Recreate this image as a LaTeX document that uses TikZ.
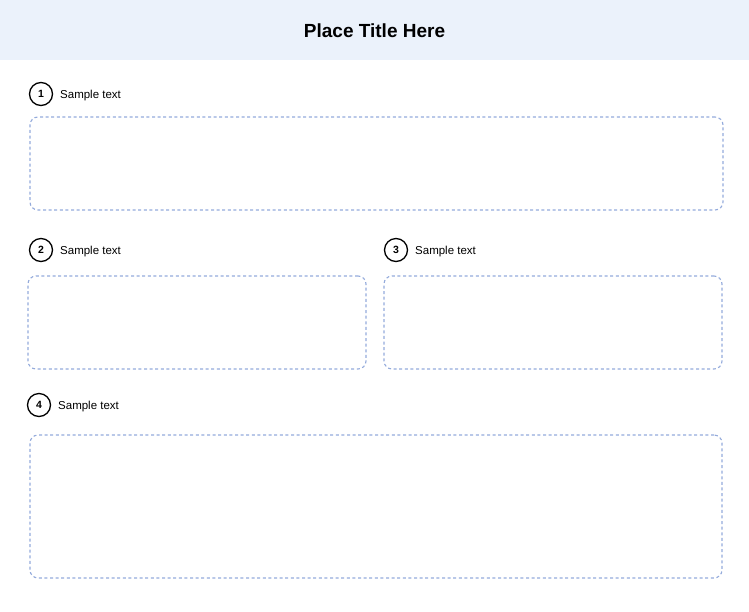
\documentclass[tikz,border=0pt]{standalone}
\usepackage{fontspec}
\setmainfont{Liberation Sans}
\usepackage{tikz}
\definecolor{bandblue}{HTML}{EBF2FB}
\definecolor{dashblue}{HTML}{93AADB}
\tikzset{
  panel/.style={draw=dashblue, line width=1.1pt, dash pattern=on 3pt off 2.6pt, rounded corners=8pt, inner sep=0pt},
  numdot/.style={draw, circle, line width=1.3pt, minimum size=23pt, inner sep=0pt, font=\fontsize{10.5}{12}\selectfont\bfseries},
  caption/.style={anchor=base west, inner sep=0pt, font=\fontsize{11.5}{13}\selectfont}
}
\newcommand{\heading}[4]{\node[numdot] (n#1) at (#2,#3) {#1};
  \node[caption] (t#1) at (#4,#3+4) {Sample text};}

\begin{document}
\begin{tikzpicture}[x=1pt,y=-1pt]
       \useasboundingbox (0,0) rectangle (749,611);
       \fill[bandblue] (0,0) rectangle (749,60);
       \node[font=\fontsize{19}{22}\selectfont\bfseries] (title) at (374.5,31) {Place Title Here};
       % numbered headings
       \heading{1}{41}{94}{60}
       \heading{2}{41}{250}{60}
       \heading{3}{396}{250}{415}
       \heading{4}{39}{405}{58}
       % dashed panels
       \node[panel, minimum width=693pt, minimum height=93pt] (box1) at (376.5,163.5) {};
       \node[panel, minimum width=338pt, minimum height=93pt] (box2) at (197,322.5) {};
       \node[panel, minimum width=338pt, minimum height=93pt] (box3) at (553,322.5) {};
       \node[panel, minimum width=692pt, minimum height=143pt] (box4) at (376,506.5) {};
\end{tikzpicture}
\end{document}
